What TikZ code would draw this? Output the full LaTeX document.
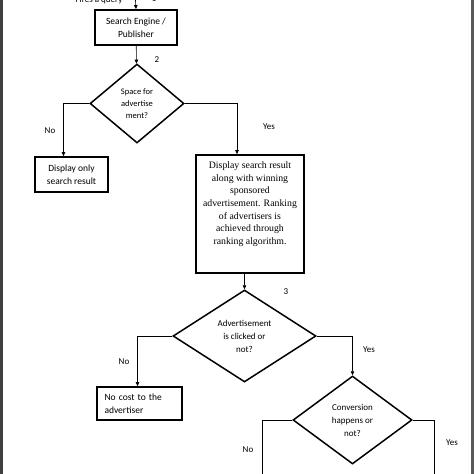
\documentclass[tikz,border=0pt]{standalone}
\usepackage{fontspec}
\setmainfont{Carlito}
\newfontfamily\timesfont{Liberation Serif}
\usetikzlibrary{shapes.geometric,arrows.meta}

\tikzset{
  box/.style={draw, line width=1.7pt, align=center, inner sep=2pt, font=\fontsize{9.5}{13.5}\selectfont},
  decision/.style={draw, diamond, line width=1.5pt, inner sep=0pt, align=center, font=\fontsize{9}{13}\selectfont},
  flow/.style={-{Triangle[length=4pt,width=3.5pt]}, line width=0.6pt},
  lbl/.style={font=\fontsize{9}{10}\selectfont}
}

\begin{document}
\begin{tikzpicture}[x=1pt,y=-1pt]
		\useasboundingbox (0,0) rectangle (474,474);
		% page edges of the scan
		\fill[black!75] (0,0) rectangle (3,474);
		\fill[black!65] (471,0) rectangle (474,474);
		% top
		\node[lbl, anchor=base] (query) at (99,2) {Fires a query};
		\node[lbl] (n1) at (154,-1) {1};
		\coordinate (qtop) at (135,-8);
		\node[box, minimum width=82pt, minimum height=35pt] (search) at (136,27.5) {Search Engine /\\Publisher};
		\node[decision, minimum width=94pt, minimum height=79pt, font=\fontsize{8.5}{12}\selectfont] (space) at (137,103.5) {Space for\\advertise\\ment?};
		\node[lbl] (n2) at (157,60) {2};
		% first split
		\node[box, minimum width=73pt, minimum height=35pt] (only) at (71.5,174.5) {Display only\\search result};
		\node[box, minimum width=108pt, minimum height=118pt] (ranked) at (250,214) {};
		\node[anchor=north, align=center, font=\timesfont\fontsize{9.8}{12.7}\selectfont] (rankedtxt) at ([yshift=-4pt]ranked.north) {Display search result\\along with winning\\sponsored\\advertisement. Ranking\\of advertisers is\\achieved through\\ranking algorithm.};
		\node[lbl] (no1) at (50,131) {No};
		\node[lbl] (yes1) at (269,127) {Yes};
		% click
		\node[decision, minimum width=143pt, minimum height=92pt] (click) at (244.5,336) {Advertisement\\is clicked or\\not?};
		\node[lbl] (n3) at (286,292) {3};
		\node[box, minimum width=85pt, minimum height=33pt, align=left, text width=70pt] (nocost) at (139.5,403.5) {No cost to the\\advertiser};
		\node[lbl] (no2) at (124,362) {No};
		\node[lbl] (yes2) at (369,350) {Yes};
		% conversion
		\node[decision, minimum width=119pt, minimum height=88pt] (conv) at (352.5,420) {Conversion\\happens or\\not?};
		\node[lbl] (no3) at (248,450) {No};
		\node[lbl] (yes3) at (452,443) {Yes};
		\coordinate (convno) at (262,480);
		\coordinate (convyes) at (434,480);
		% connectors
		\draw[flow] (qtop) -- (search.north);
		\draw[flow] (search) -- (space);
		\draw[flow] (space.west) -| ([xshift=-8pt]only.north);
		\draw[flow] (space.east) -| ([xshift=-13pt]ranked.north);
		\draw[flow] (click.north |- ranked.south) -- (click.north);
		\draw[flow] (click.west) -| ([xshift=-2pt]nocost.north);
		\draw[flow] (click.east) -| (conv.north);
		\draw[line width=0.6pt] (conv.west) -| (convno);
		\draw[line width=0.6pt] (conv.east) -| (convyes);
	\end{tikzpicture}
\end{document}
